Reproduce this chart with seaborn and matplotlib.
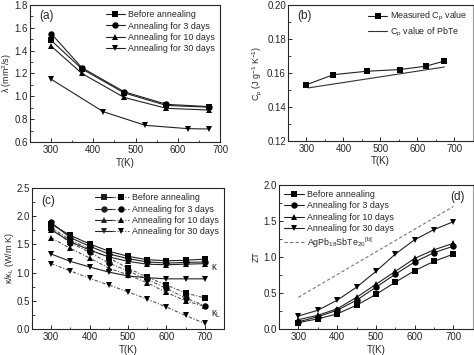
import matplotlib
matplotlib.use("Agg")
import matplotlib.pyplot as plt
import seaborn as sns
from matplotlib.ticker import MultipleLocator
from matplotlib.legend_handler import HandlerTuple
from matplotlib.lines import Line2D

# (a) thermal diffusivity
t_a = [300, 373, 473, 573, 673]
t_a30 = [300, 423, 523, 623, 673]
diff_before = [1.49, 1.24, 1.03, 0.92, 0.905]
diff_3d = [1.55, 1.25, 1.04, 0.93, 0.91]
diff_10d = [1.44, 1.20, 0.99, 0.895, 0.88]
diff_30d = [1.15, 0.866, 0.746, 0.717, 0.714]

# (b) heat capacity
t_cp = [300, 373, 463, 553, 623, 673]
cp_measured = [0.1531, 0.159, 0.161, 0.162, 0.164, 0.167]
t_pbte = [305, 673]
cp_pbte = [0.1512, 0.1635]

# (c) total / lattice thermal conductivity
t_c = [300, 350, 400, 450, 500, 550, 600, 650, 700]
k_before = [1.86, 1.66, 1.51, 1.38, 1.29, 1.23, 1.21, 1.22, 1.24]
k_3d = [1.89, 1.62, 1.47, 1.33, 1.25, 1.19, 1.17, 1.18, 1.19]
k_10d = [1.76, 1.55, 1.40, 1.28, 1.20, 1.15, 1.14, 1.15, 1.16]
k_30d = [1.33, 1.20, 1.10, 1.01, 0.94, 0.91, 0.89, 0.89, 0.89]
kl_before = [1.80, 1.58, 1.42, 1.26, 1.08, 0.92, 0.78, 0.64, 0.55]
kl_3d = [1.78, 1.53, 1.36, 1.17, 1.03, 0.88, 0.72, 0.55, 0.41]
kl_10d = [1.62, 1.43, 1.26, 1.08, 0.96, 0.82, 0.65, 0.50, 0.40]
kl_30d = [1.16, 1.03, 0.90, 0.78, 0.66, 0.53, 0.39, 0.24, 0.10]

# (d) ZT
t_d = [300, 350, 400, 450, 500, 550, 600, 650, 700]
zt_before = [0.09, 0.14, 0.21, 0.33, 0.48, 0.65, 0.81, 0.94, 1.04]
zt_3d = [0.10, 0.17, 0.26, 0.40, 0.58, 0.76, 0.93, 1.06, 1.15]
zt_10d = [0.13, 0.19, 0.28, 0.44, 0.62, 0.80, 0.98, 1.10, 1.19]
zt_30d = [0.18, 0.26, 0.40, 0.58, 0.80, 1.04, 1.24, 1.38, 1.49]
t_ref = [300, 700]
zt_ref = [0.44, 1.70]

labels = ["Before annealing", "Annealing for 3 days",
          "Annealing for 10 days", "Annealing for 30 days"]
markers = ["s", "o", "^", "v"]

sns.set_style("ticks")
plt.rcParams['font.family'] = ['Liberation Sans', 'DejaVu Sans']
plt.rcParams['mathtext.fontset'] = 'custom'
plt.rcParams['mathtext.rm'] = 'Liberation Sans'
plt.rcParams['mathtext.it'] = 'Liberation Sans'
FS = 6.4     # legend text
TFS = 7.0    # tick / x labels
YFS = 6.4    # y labels
MS = 4.6

fig = plt.figure(figsize=(4.74, 3.55), dpi=100)
ax_a = fig.add_axes([0.0633, 0.600, 0.401, 0.386])
ax_b = fig.add_axes([0.6076, 0.603, 0.390, 0.383])
ax_c = fig.add_axes([0.0675, 0.0732, 0.405, 0.397])
ax_d = fig.add_axes([0.5886, 0.0732, 0.409, 0.406])


def style(ax, xlim, ylim, ymaj, yminor):
    ax.set_xlim(*xlim)
    ax.set_ylim(*ylim)
    ax.xaxis.set_major_locator(MultipleLocator(100))
    ax.xaxis.set_minor_locator(MultipleLocator(50))
    ax.yaxis.set_major_locator(MultipleLocator(ymaj))
    ax.yaxis.set_minor_locator(MultipleLocator(yminor))
    ax.tick_params(which="both", direction="in", labelsize=TFS, pad=2)
    ax.tick_params(axis="y", pad=1.5)
    ax.tick_params(which="major", length=3, width=0.7)
    ax.tick_params(which="minor", length=1.8, width=0.6)
    for s in ax.spines.values():
        s.set_linewidth(0.8)
    ax.set_xlabel("T(K)", fontsize=TFS, labelpad=2)


def series(ax, x, y, marker, label=None, ls="-", color="#222222"):
    sns.lineplot(x=x, y=y, ax=ax, marker=marker, markersize=MS, color=color,
                 linestyle=ls, linewidth=0.8, markeredgewidth=0,
                 label=label, legend=False, markerfacecolor="black")


leg_kw = dict(fontsize=FS, frameon=False, handlelength=2.2,
              labelspacing=0.25, handletextpad=0.3, borderaxespad=0.2)

# (a)
for ys, m, lab in zip([diff_before, diff_3d, diff_10d], markers, labels):
    series(ax_a, t_a, ys, m, lab)
series(ax_a, t_a30, diff_30d, "v", labels[3])
style(ax_a, (250, 700), (0.6, 1.8), 0.2, 0.1)
ax_a.set_ylabel("λ (mm$^2$/s)", fontsize=YFS, labelpad=0.5)
ax_a.legend(loc="upper right", **leg_kw)
ax_a.text(0.05, 0.96, "(a)", transform=ax_a.transAxes, fontsize=8.5, va="top")

# (b)
series(ax_b, t_cp, cp_measured, "s", "Measured C$_p$ value")
sns.lineplot(x=t_pbte, y=cp_pbte, ax=ax_b, color="#333333", linewidth=0.8,
             label="C$_p$ value of PbTe", legend=False)
style(ax_b, (250, 750), (0.12, 0.20), 0.02, 0.01)
ax_b.set_ylabel("C$_p$ (J g$^{-1}$ K$^{-1}$)", fontsize=YFS, labelpad=2)
ax_b.legend(loc="upper right", **leg_kw)
ax_b.text(0.05, 0.96, "(b)", transform=ax_b.transAxes, fontsize=8.5, va="top")
ax_b.spines["right"].set_color("#9a9a9a")

# (c)
dashdot = (0, (3, 1.5, 1, 1.5))
handles = []
for k, kl, m in zip([k_before, k_3d, k_10d, k_30d],
                    [kl_before, kl_3d, kl_10d, kl_30d], markers):
    series(ax_c, t_c, k, m, color="#222222")
    series(ax_c, t_c, kl, m, ls=dashdot, color="#555555")
    h1 = Line2D([], [], color="#222222", marker=m, markersize=MS, lw=0.8,
                markeredgewidth=0)
    h2 = Line2D([], [], color="#555555", marker=m, markersize=MS, lw=0.8,
                linestyle=dashdot, markerfacecolor="black", markeredgewidth=0)
    handles.append((h1, h2))
style(ax_c, (250, 750), (0.0, 2.5), 0.5, 0.25)
ax_c.set_ylabel("κ/κ$_L$ (W/m K)", fontsize=YFS, labelpad=0.5)
c_kw = dict(leg_kw, handlelength=3.8)
ax_c.legend(handles, labels, loc="upper right",
            handler_map={tuple: HandlerTuple(ndivide=None, pad=0)}, **c_kw)
ax_c.text(0.05, 0.95, "(c)", transform=ax_c.transAxes, fontsize=8.5, va="top")
ax_c.text(716, 1.04, "κ", fontsize=TFS)
ax_c.text(716, 0.22, "κ$_L$", fontsize=TFS)

# (d)
for ys, m, lab in zip([zt_before, zt_3d, zt_10d, zt_30d], markers, labels):
    series(ax_d, t_d, ys, m, lab)
sns.lineplot(x=t_ref, y=zt_ref, ax=ax_d, color="#777777", linewidth=0.8,
             linestyle=(0, (3, 2)), label="AgPb$_{18}$SbTe$_{20}$$^{[b]}$",
             legend=False)
style(ax_d, (250, 750), (0.0, 2.0), 0.5, 0.25)
ax_d.set_ylabel("ZT", fontsize=YFS, labelpad=2)
ax_d.legend(loc="upper left", **leg_kw)
ax_d.text(0.96, 0.96, "(d)", transform=ax_d.transAxes, fontsize=8.5,
          va="top", ha="right")
ax_d.spines["right"].set_color("#9a9a9a")

fig.savefig("out.png", dpi=100)
